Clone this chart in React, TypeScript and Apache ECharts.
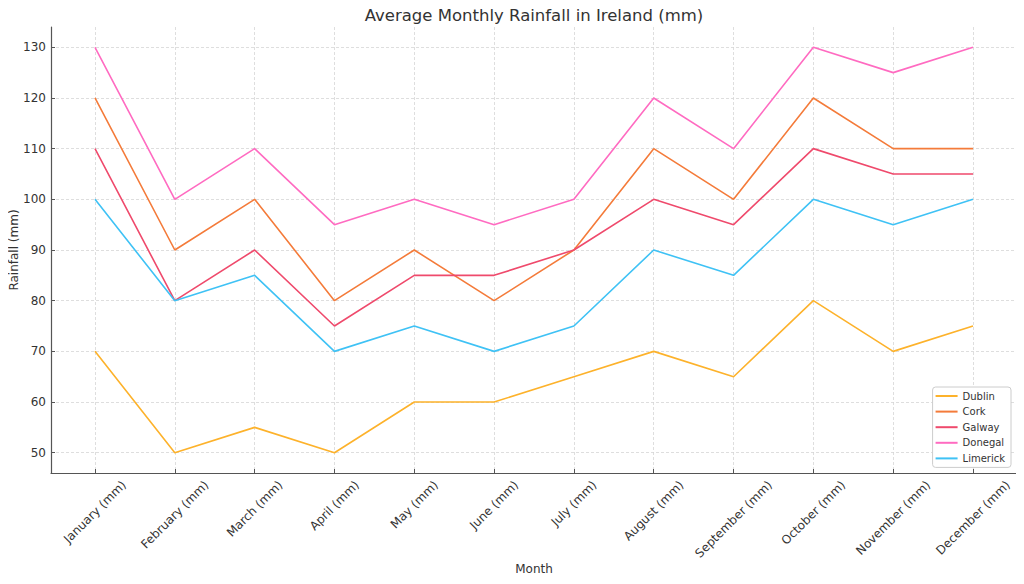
import React, { useEffect, useRef } from 'react'
import * as echarts from 'echarts'

const months = [
  'January (mm)', 'February (mm)', 'March (mm)', 'April (mm)', 'May (mm)', 'June (mm)',
  'July (mm)', 'August (mm)', 'September (mm)', 'October (mm)', 'November (mm)', 'December (mm)'
]
const dublin = [70, 50, 55, 50, 60, 60, 65, 70, 65, 80, 70, 75]
const cork = [120, 90, 100, 80, 90, 80, 90, 110, 100, 120, 110, 110]
const galway = [110, 80, 90, 75, 85, 85, 90, 100, 95, 110, 105, 105]
const donegal = [130, 100, 110, 95, 100, 95, 100, 120, 110, 130, 125, 130]
const limerick = [100, 80, 85, 70, 75, 70, 75, 90, 85, 100, 95, 100]
const yTicks = { min: 50, max: 130, step: 10 }

const cities = [
  { name: 'Dublin', data: dublin, color: '#FDB22B' },
  { name: 'Cork', data: cork, color: '#F47B3A' },
  { name: 'Galway', data: galway, color: '#EF4A6C' },
  { name: 'Donegal', data: donegal, color: '#FF6BC1' },
  { name: 'Limerick', data: limerick, color: '#3FC2F5' }
]

const FONT = '"DejaVu Sans", sans-serif'
const TEXT = '#333'

// width of a string in px, used to centre the rotated month labels under their ticks
const measure = (s: string, size: number) => {
  const ctx = document.createElement('canvas').getContext('2d')
  if (!ctx) return s.length * size * 0.6
  ctx.font = `${size}px "DejaVu Sans"`
  return ctx.measureText(s).width
}

const App: React.FC = () => {
  const chartRef = useRef<HTMLDivElement>(null)

  useEffect(() => {
    if (!chartRef.current) return
    const chart = echarts.init(chartRef.current, undefined, { renderer: 'svg' })

    const labelSize = 12
    const rich: Record<string, any> = {}
    months.forEach((m, i) => {
      const p = (measure(m, labelSize) + 14) / 2
      rich['m' + i] = { fontSize: labelSize, fontFamily: FONT, color: TEXT, padding: [p, p, 0, 0] }
    })

    const dash = { color: '#d6d6d6', width: 0.8, type: [3, 2] as number[] }
    const spine = { show: true, lineStyle: { color: '#555', width: 1.2 } }

    const option: echarts.EChartsOption = {
      animation: false,
      backgroundColor: '#fff',
      title: {
        text: 'Average Monthly Rainfall in Ireland (mm)',
        left: 529,
        top: 2,
        textAlign: 'center',
        textStyle: { fontFamily: FONT, fontSize: 16.5, fontWeight: 'normal', color: TEXT }
      },
      legend: {
        orient: 'vertical',
        right: 13,
        top: 387,
        data: cities.map(c => c.name),
        icon: 'rect',
        itemWidth: 22,
        itemHeight: 2,
        itemGap: 3.6,
        padding: [3, 6, 3, 3],
        borderColor: '#ccc',
        borderWidth: 1,
        borderRadius: 3,
        backgroundColor: '#fff',
        textStyle: { fontFamily: FONT, fontSize: 10, lineHeight: 12, color: TEXT }
      },
      grid: [
        // spines
        { left: 51, right: 7, top: 27, bottom: 111 },
        // y ticks, labels and horizontal grid
        { left: 51, right: 7, top: 47.27, bottom: 131.27 },
        // data
        { left: 95, right: 51, top: 27, bottom: 111 }
      ],
      xAxis: [
        {
          gridIndex: 0, type: 'value', min: 0, max: 1,
          axisLine: spine, axisTick: { show: false }, axisLabel: { show: false }, splitLine: { show: false },
          name: 'Month', nameLocation: 'middle', nameGap: 90,
          nameTextStyle: { fontFamily: FONT, fontSize: 12, color: TEXT }
        },
        {
          gridIndex: 1, type: 'value', min: 0, max: 1, show: false
        },
        {
          gridIndex: 2, type: 'category', data: months, boundaryGap: false,
          axisLine: { show: false },
          axisTick: { show: true, inside: true, length: 4, alignWithLabel: true, lineStyle: { color: '#555' } },
          axisLabel: {
            interval: 0, rotate: 45, margin: 5, align: 'center', verticalAlign: 'middle',
            formatter: (v: string) => `{m${months.indexOf(v)}|${v}}`,
            rich
          },
          splitLine: { show: true, lineStyle: dash }
        }
      ],
      yAxis: [
        {
          gridIndex: 0, type: 'value', min: 46, max: 134,
          axisLine: spine, axisTick: { show: false }, axisLabel: { show: false }, splitLine: { show: false },
          name: 'Rainfall (mm)', nameLocation: 'middle', nameGap: 31,
          nameTextStyle: { fontFamily: FONT, fontSize: 12, color: TEXT }
        },
        {
          gridIndex: 1, type: 'value', min: yTicks.min, max: yTicks.max, interval: yTicks.step,
          axisLine: { show: false },
          axisTick: { show: true, inside: true, length: 4, lineStyle: { color: '#555' } },
          axisLabel: { margin: 5, fontFamily: FONT, fontSize: 12, color: TEXT },
          splitLine: { show: true, lineStyle: dash }
        },
        {
          gridIndex: 2, type: 'value', min: 46, max: 134, show: false
        }
      ],
      series: cities.map(c => ({
        name: c.name,
        type: 'line' as const,
        xAxisIndex: 2,
        yAxisIndex: 2,
        data: c.data,
        color: c.color,
        symbol: 'none',
        lineStyle: { width: 1.6, color: c.color }
      }))
    }

    chart.setOption(option)
    return () => chart.dispose()
  }, [])

  return <div ref={chartRef} style={{ width: 1024, height: 584, margin: -8 }} />
}

export default App
